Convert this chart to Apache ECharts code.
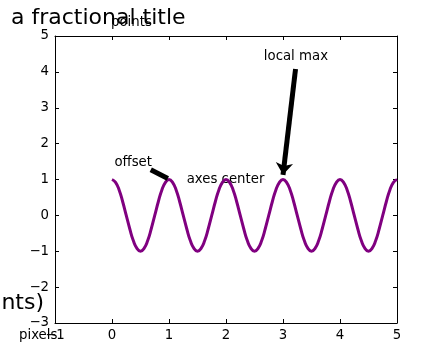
<!DOCTYPE html>
<html>
<head>
<meta charset="utf-8">
<script src="https://cdn.jsdelivr.net/npm/echarts@6/dist/echarts.min.js"></script>
<style>html,body{margin:0;padding:0;background:#fff}#c{width:440px;height:360px}</style>
</head>
<body>
<div id="c"></div>
<script>
var tValues = [0,0.0625,0.125,0.1875,0.25,0.3125,0.375,0.4375,0.5,0.5625,0.625,0.6875,0.75,0.8125,0.875,0.9375,
1,1.0625,1.125,1.1875,1.25,1.3125,1.375,1.4375,1.5,1.5625,1.625,1.6875,1.75,1.8125,1.875,1.9375,
2,2.0625,2.125,2.1875,2.25,2.3125,2.375,2.4375,2.5,2.5625,2.625,2.6875,2.75,2.8125,2.875,2.9375,
3,3.0625,3.125,3.1875,3.25,3.3125,3.375,3.4375,3.5,3.5625,3.625,3.6875,3.75,3.8125,3.875,3.9375,
4,4.0625,4.125,4.1875,4.25,4.3125,4.375,4.4375,4.5,4.5625,4.625,4.6875,4.75,4.8125,4.875,4.9375,5];
var yValues = [1,0.92,0.71,0.38,0,-0.38,-0.71,-0.92,-1,-0.92,-0.71,-0.38,0,0.38,0.71,0.92,
1,0.92,0.71,0.38,0,-0.38,-0.71,-0.92,-1,-0.92,-0.71,-0.38,0,0.38,0.71,0.92,
1,0.92,0.71,0.38,0,-0.38,-0.71,-0.92,-1,-0.92,-0.71,-0.38,0,0.38,0.71,0.92,
1,0.92,0.71,0.38,0,-0.38,-0.71,-0.92,-1,-0.92,-0.71,-0.38,0,0.38,0.71,0.92,
1,0.92,0.71,0.38,0,-0.38,-0.71,-0.92,-1,-0.92,-0.71,-0.38,0,0.38,0.71,0.92,1];
var xTicks = [-1,0,1,2,3,4,5];
var yTicks = [-3,-2,-1,0,1,2,3,4,5];
var localMaxArrow = [[3.22,4.08],[3.0,1.13]];
var offsetArrow = [[0.68,1.27],[0.98,1.03]];

var FONT = 'DejaVu Sans';
var chart = echarts.init(document.getElementById('c'), null, {renderer:'canvas'});
var seriesData = tValues.map(function(t,i){return [t, yValues[i]];});
function minus(v){ return String(v).replace('-', '\u2212'); }
function axisCommon(pos, showLabel, mn, mx){
  return {
    type:'value', position:pos, min:mn, max:mx, interval:1,
    axisLine:{show:true, onZero:false, lineStyle:{color:'#000', width:1}},
    axisTick:{show:true, inside:true, length:4, lineStyle:{color:'#000'}},
    axisLabel:{show:showLabel, color:'#000', fontFamily:FONT, fontSize:13.3, margin:6, formatter:minus},
    splitLine:{show:false}
  };
}
var option = {
  animation:false,
  backgroundColor:'#fff',
  grid:{left:55, right:43, top:36, bottom:37, containLabel:false},
  xAxis:[axisCommon('bottom', true, xTicks[0], xTicks[xTicks.length-1]), axisCommon('top', false, xTicks[0], xTicks[xTicks.length-1])],
  yAxis:[axisCommon('left', true, yTicks[0], yTicks[yTicks.length-1]), axisCommon('right', false, yTicks[0], yTicks[yTicks.length-1])],
  series:[{
    type:'line', data:seriesData, smooth:true, showSymbol:false,
    lineStyle:{color:'#800080', width:3}, itemStyle:{color:'#800080'},
    markLine:{
      silent:true, animation:false,
      label:{show:false},
      data:[
        [{coord:localMaxArrow[0], symbol:'none', lineStyle:{color:'#000', width:5, type:'solid'}},
         {coord:localMaxArrow[1], symbol:'arrow', symbolSize:[13,12]}],
        [{coord:offsetArrow[0], symbol:'none', lineStyle:{color:'#000', width:5, type:'solid'}},
         {coord:offsetArrow[1], symbol:'none'}]
      ]
    }
  }],
  graphic:[
    {type:'text', left:11, top:7, style:{text:'a fractional title', font:'22px "DejaVu Sans"', fill:'#000'}},
    {type:'text', x:111, y:29, style:{text:'points', font:'13.3px "DejaVu Sans"', fill:'#000', textVerticalAlign:'bottom'}},
    {type:'text', x:44, y:314, style:{text:'bottom right (points)', font:'22px "DejaVu Sans"', fill:'#000', textAlign:'right', textVerticalAlign:'bottom'}},
    {type:'text', x:19, y:342, style:{text:'pixels', font:'13.3px "DejaVu Sans"', fill:'#000', textVerticalAlign:'bottom'}},
    {type:'text', x:328, y:50, style:{text:'local max', font:'13.3px "DejaVu Sans"', fill:'#000', textAlign:'right', textVerticalAlign:'top'}},
    {type:'text', x:152, y:169, style:{text:'offset', font:'13.3px "DejaVu Sans"', fill:'#000', textAlign:'right', textVerticalAlign:'bottom'}},
    {type:'text', x:225.5, y:180, style:{text:'axes center', font:'13.3px "DejaVu Sans"', fill:'#000', textAlign:'center', textVerticalAlign:'middle'}}
  ]
};
chart.setOption(option);
</script>
</body>
</html>
